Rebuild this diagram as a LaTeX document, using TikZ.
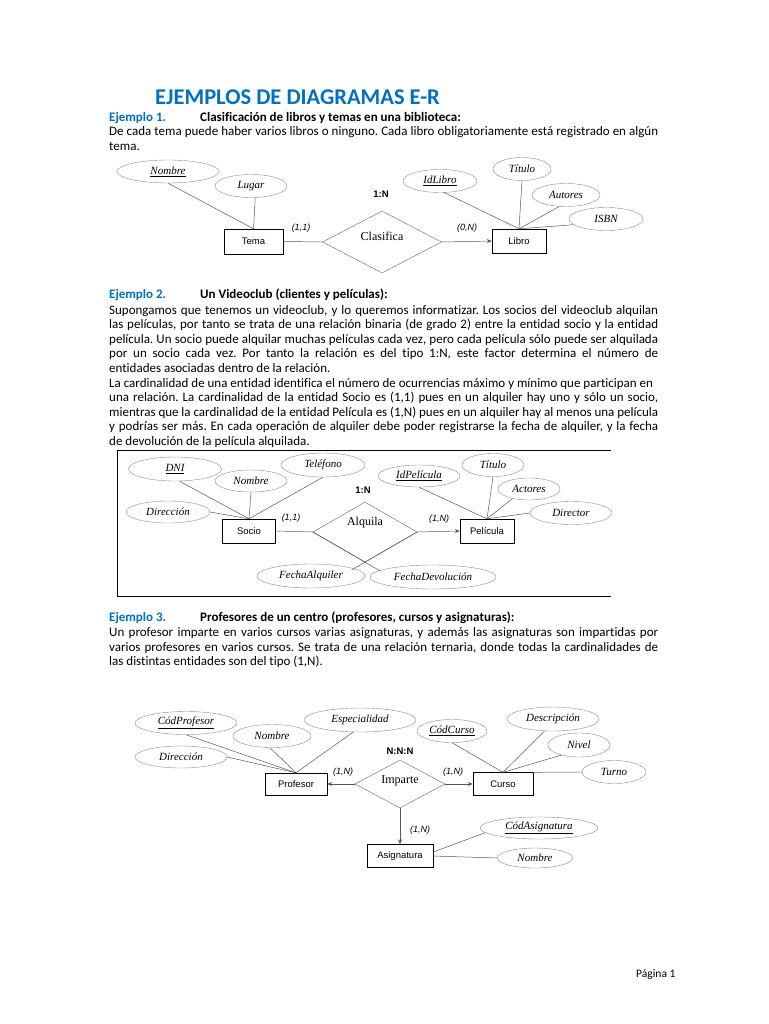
\documentclass[tikz,border=0pt]{standalone}
\usepackage{fontspec}
\setmainfont[Ligatures=NoCommon]{Carlito}
\newfontfamily\erfont{Liberation Sans}
\newfontfamily\atfont{Liberation Serif}
\usetikzlibrary{shapes.geometric,arrows.meta,calc}
\definecolor{titblue}{RGB}{0,112,192}
\newcommand{\jl}[1]{\makebox[549pt][s]{#1}}
\frenchspacing

\tikzset{
  txt/.style={anchor=base west,inner sep=0pt,font=\fontsize{13}{14.6}\selectfont},
  hd/.style={txt,font=\bfseries\fontsize{13}{14.6}\selectfont},
  ent/.style={draw,rectangle,inner sep=0pt,minimum height=24,font=\erfont\fontsize{9.5}{11}\selectfont},
  atr/.style={draw=black!45,ellipse,inner sep=0pt,minimum height=23,font=\atfont\itshape\fontsize{11}{13}\selectfont},
  rel/.style={draw=black!60,diamond,inner sep=0pt,font=\atfont\fontsize{12}{14}\selectfont},
  card/.style={inner sep=0pt,font=\erfont\itshape\fontsize{9}{11}\selectfont},
  ratio/.style={inner sep=0pt,font=\erfont\bfseries\fontsize{9.5}{11}\selectfont},
  lnk/.style={draw=black!65,line width=0.5pt},
}

\begin{document}
\begin{tikzpicture}[x=1pt,y=-1pt,>={Stealth[length=5pt,width=4pt]}]
\fill[white] (0,0) rectangle (768,1024);
\useasboundingbox (0,0) rectangle (768,1024);

% titulo y ejemplo 1
\node[txt,font=\bfseries\fontsize{22.5}{26}\selectfont,text=titblue] (titulo) at (155,105) {EJEMPLOS DE DIAGRAMAS E-R};
\node[hd,text=titblue] (ej1) at (109,122) {Ejemplo 1.};
\node[hd] (ej1t) at (200,122) {Clasificación de libros y temas en una biblioteca:};
\node[txt] (t1a) at (109,136) {\jl{De cada tema puede haber varios libros o ninguno. Cada libro obligatoriamente está registrado en algún}};
\node[txt] (t1b) at (109,150.6) {tema.};

% diagrama 1
\node[ent,minimum width=59,minimum height=25] (tema) at (253.5,241.5) {Tema};
\node[ent,minimum width=54] (libro) at (519,241) {Libro};
\node[rel,minimum width=119,minimum height=62] (clasifica) at (382,242) {};
\node[inner sep=0pt,font=\atfont\fontsize{12}{14}\selectfont] (clasificaT) at (382,236) {Clasifica};
\node[ratio] (r1) at (381,194) {1:N};
\node[card] (c11) at (301,228) {(1,1)};
\node[card] (c12) at (467,228) {(0,N)};

\node[atr,minimum width=102] (nombreT) at (168,171.5) {\underline{Nombre}};
\node[atr,minimum width=72] (lugar) at (251,186) {Lugar};
\node[atr,minimum width=74] (idlibro) at (440,181) {\underline{IdLibro}};
\node[atr,minimum width=58] (tituloL) at (522,169) {Título};
\node[atr,minimum width=68] (autores) at (566,195) {Autores};
\node[atr,minimum width=74] (isbn) at (606,219) {ISBN};

\draw[lnk] (nombreT.south) -- (tema.north);
\draw[lnk] (lugar.-70) -- (tema.north);
\draw[lnk] (tema.east) -- (clasifica.west);
\draw[lnk,->] (clasifica.east) -- (libro.west);
\draw[lnk] (idlibro.-70) -- (libro.north);
\draw[lnk] (tituloL.south) -- (libro.north);
\draw[lnk] (autores.-120) -- (libro.north);
\draw[lnk] (isbn.190) -- (libro.north);

% ejemplo 2
\node[hd,text=titblue] (ej2) at (109,298) {Ejemplo 2.};
\node[hd] (ej2t) at (200,298) {Un Videoclub (clientes y películas):};
\foreach \t [count=\i] in {
  {\jl{Supongamos que tenemos un videoclub, y lo queremos informatizar. Los socios del videoclub alquilan}},
  {\jl{las películas, por tanto se trata de una relación binaria (de grado 2) entre la entidad socio y la entidad}},
  {\jl{película. Un socio puede alquilar muchas películas cada vez, pero cada película sólo puede ser alquilada}},
  {\jl{por un socio cada vez. Por tanto la relación es del tipo 1:N, este factor determina el número de}},
  {entidades asociadas dentro de la relación.},
  {La cardinalidad de una entidad identifica el número de ocurrencias máximo y mínimo que participan en},
  {\jl{una relación. La cardinalidad de la entidad Socio es (1,1) pues en un alquiler hay uno y sólo un socio,}},
  {\jl{mientras que la cardinalidad de la entidad Película es (1,N) pues en un alquiler hay al menos una película}},
  {\jl{y podrías ser más. En cada operación de alquiler debe poder registrarse la fecha de alquiler, y la fecha}},
  {de devolución de la película alquilada.}}
  \node[txt] (vc\i) at (109,{314+14.6*(\i-1)}) {\t};

% diagrama 2
\draw[line width=0.6pt] (611,450) -- (117,450) -- (117,596) -- (611,596);
\node[ent,minimum width=53] (socio) at (249,531) {Socio};
\node[ent,minimum width=54] (pelicula) at (487,531) {Película};
\node[rel,minimum width=104,minimum height=60] (alquila) at (365,532) {};
\node[inner sep=0pt,font=\atfont\fontsize{12}{14}\selectfont] (alquilaT) at (365,523) {Alquila};
\node[ratio] (r2) at (363,490) {1:N};
\node[card] (c21) at (291,518) {(1,1)};
\node[card] (c22) at (439,519) {(1,N)};

\node[atr,minimum width=93,minimum height=24] (dni) at (175,469) {\underline{DNI}};
\node[atr,minimum width=72,minimum height=22] (nombreS) at (251,481) {Nombre};
\node[atr,minimum width=84,minimum height=24] (telefono) at (323,465) {Teléfono};
\node[atr,minimum width=84,minimum height=22] (direccionS) at (168,512) {Dirección};
\node[atr,minimum width=82,minimum height=22] (idpelicula) at (419,476) {\underline{IdPelícula}};
\node[atr,minimum width=62] (tituloP) at (493,465) {Título};
\node[atr,minimum width=62,minimum height=22] (actores) at (529,489) {Actores};
\node[atr,minimum width=82] (director) at (571,513) {Director};
\node[atr,minimum width=108,minimum height=24] (falq) at (311,576) {FechaAlquiler};
\node[atr,minimum width=126,minimum height=24] (fdev) at (433,577) {FechaDevolución};

\draw[lnk] (dni.-70) -- (socio.north);
\draw[lnk] (nombreS.south) -- (socio.north);
\draw[lnk] (telefono.south) -- (socio.north);
\draw[lnk] (direccionS.east) -- (socio.north);
\draw[lnk] (socio.east) -- (alquila.west);
\draw[lnk,->] (alquila.east) -- (pelicula.west);
\draw[lnk] (idpelicula.south) -- (pelicula.north);
\draw[lnk] (tituloP.south) -- (pelicula.north);
\draw[lnk] (actores.-150) -- (pelicula.north);
\draw[lnk] (director.west) -- (pelicula.north);
\draw[lnk] (alquila.west) -- ($(alquila.west)!1.3!(alquila.south)$);
\draw[lnk] (alquila.east) -- ($(alquila.east)!1.25!(alquila.south)$);

% ejemplo 3
\node[hd,text=titblue] (ej3) at (109,621) {Ejemplo 3.};
\node[hd] (ej3t) at (200,621) {Profesores de un centro (profesores, cursos y asignaturas):};
\node[txt] (t3a) at (109,636.5) {\jl{Un profesor imparte en varios cursos varias asignaturas, y además las asignaturas son impartidas por}};
\node[txt] (t3b) at (109,651.1) {\jl{varios profesores en varios cursos. Se trata de una relación ternaria, donde todas la cardinalidades de}};
\node[txt] (t3c) at (109,665.7) {las distintas entidades son del tipo (1,N).};

% diagrama 3
\node[ent,minimum width=62,minimum height=22] (profesor) at (296,784) {Profesor};
\node[ent,minimum width=60,minimum height=23] (curso) at (503,784) {Curso};
\node[ent,minimum width=66,minimum height=23] (asignatura) at (400,856) {Asignatura};
\node[rel,minimum width=90,minimum height=48] (imparte) at (400,784) {};
\node[inner sep=0pt,font=\atfont\fontsize{12}{14}\selectfont] (imparteT) at (400,781) {Imparte};
\node[ratio] (r3) at (400,751) {N:N:N};
\node[card] (c31) at (343,772) {(1,N)};
\node[card] (c32) at (453,772) {(1,N)};
\node[card] (c33) at (420,830) {(1,N)};

\node[atr,minimum width=102] (codprof) at (186,723) {\underline{CódProfesor}};
\node[atr,minimum width=78] (nombreP) at (272,736) {Nombre};
\node[atr,minimum width=112,minimum height=24] (especialidad) at (360,720) {Especialidad};
\node[atr,minimum width=92,minimum height=22] (direccionP) at (181,757) {Dirección};
\node[atr,minimum width=70] (codcurso) at (452,731) {\underline{CódCurso}};
\node[atr,minimum width=92,minimum height=24] (descripcion) at (553,719) {Descripción};
\node[atr,minimum width=62,minimum height=24] (nivel) at (579,745) {Nivel};
\node[atr,minimum width=64] (turno) at (614,772) {Turno};
\node[atr,minimum width=118,minimum height=22] (codasig) at (539,828) {\underline{CódAsignatura}};
\node[atr,minimum width=75,minimum height=20] (nombreA) at (535,858) {Nombre};

\draw[lnk] (codprof.south) -- (profesor.north);
\draw[lnk] (nombreP.-100) -- (profesor.north);
\draw[lnk] (especialidad.-120) -- (profesor.north);
\draw[lnk] (direccionP.east) -- (profesor.north);
\draw[lnk,->] (imparte.west) -- (profesor.east);
\draw[lnk,->] (imparte.east) -- (curso.west);
\draw[lnk,->] (imparte.south) -- (asignatura.north);
\draw[lnk] (codcurso.south) -- (curso.north);
\draw[lnk] (descripcion.-125) -- (curso.north);
\draw[lnk] (nivel.-150) -- (curso.north);
\draw[lnk] (curso.north east) -- (turno.west);
\draw[lnk] ($(asignatura.east)+(0,-4)$) -- (codasig.185);
\draw[lnk] (asignatura.east) -- (nombreA.west);

% pie
\node[txt,font=\fontsize{11.5}{13}\selectfont] (pagina) at (636,977) {Página 1};
\end{tikzpicture}
\end{document}
